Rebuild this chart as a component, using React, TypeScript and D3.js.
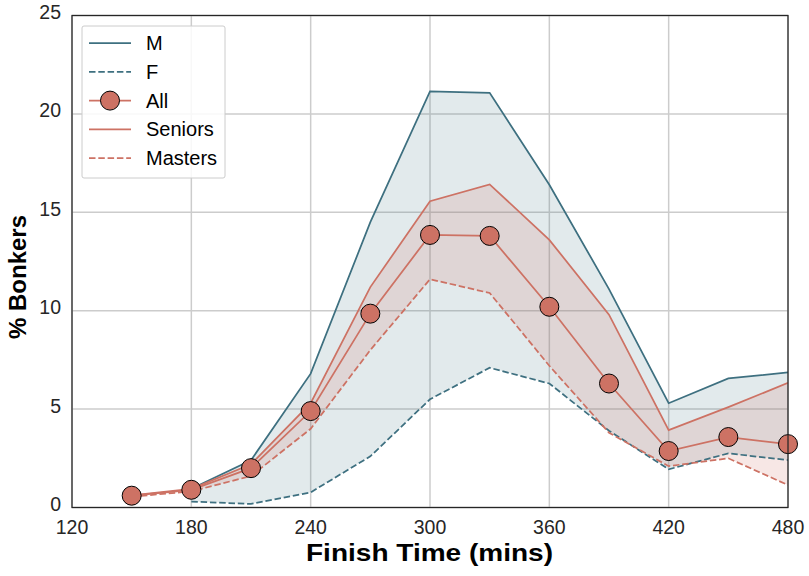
import React from "react";
import * as d3 from "d3";

const timesAll = [150, 180, 210, 240, 270, 300, 330, 360, 390, 420, 450, 480];
const allPct = [0.6, 0.9, 2.0, 4.9, 9.85, 13.85, 13.8, 10.2, 6.3, 2.87, 3.58, 3.22];
const seniorsPct = [0.62, 0.95, 2.2, 5.3, 11.2, 15.56, 16.42, 13.6, 9.8, 3.93, 5.1, 6.33];
const mastersPct = [0.55, 0.82, 1.6, 4.0, 8.0, 11.6, 10.9, 7.2, 3.8, 2.1, 2.5, 1.14];
const timesMF = [180, 210, 240, 270, 300, 330, 360, 390, 420, 450, 480];
const malePct = [0.95, 2.4, 6.8, 14.5, 21.15, 21.07, 16.4, 11.1, 5.3, 6.56, 6.86];
const femalePct = [0.3, 0.18, 0.77, 2.6, 5.5, 7.1, 6.3, 3.9, 1.94, 2.75, 2.41];

const xTicks = [120, 180, 240, 300, 360, 420, 480];
const yTicks = [0, 5, 10, 15, 20, 25];

const TEAL = "#3e7080";
const RED = "#cd7264";
const FONT = "'Liberation Sans', Arial, sans-serif";

export default function App() {
  const W = 809, H = 576;
  const L = 72, R = 788, T = 15.5, B = 507.5;
  const x = d3.scaleLinear().domain([120, 480]).range([L, R]);
  const y = d3.scaleLinear().domain([0, 25]).range([B, T]);

  const mf = timesMF.map((t, i) => ({ t, m: malePct[i], f: femalePct[i] }));
  const sm = timesAll.map((t, i) => ({ t, s: seniorsPct[i], m: mastersPct[i], a: allPct[i] }));

  const areaMF = d3.area<any>().x(d => x(d.t)).y0(d => y(d.f)).y1(d => y(d.m))(mf) || "";
  const areaSM = d3.area<any>().x(d => x(d.t)).y0(d => y(d.m)).y1(d => y(d.s))(sm) || "";
  const line = d3.line<[number, number]>().x(d => x(d[0])).y(d => y(d[1]));
  const lineM = line(timesMF.map((t, i) => [t, malePct[i]])) || "";
  const lineF = line(timesMF.map((t, i) => [t, femalePct[i]])) || "";
  const lineS = line(timesAll.map((t, i) => [t, seniorsPct[i]])) || "";
  const lineMa = line(timesAll.map((t, i) => [t, mastersPct[i]])) || "";
  const lineA = line(timesAll.map((t, i) => [t, allPct[i]])) || "";

  const dash = "6.5,2.8";
  const lw = 1.75;

  const legendItems = [
    { label: "M", color: TEAL, dash: undefined as string | undefined, marker: false },
    { label: "F", color: TEAL, dash: dash, marker: false },
    { label: "All", color: RED, dash: undefined, marker: true },
    { label: "Seniors", color: RED, dash: undefined, marker: false },
    { label: "Masters", color: RED, dash: dash, marker: false },
  ];

  return (
    <svg width={W} height={H} style={{ position: "absolute", left: 0, top: 0 }}>
      <rect x={0} y={0} width={W} height={H} fill="white" />
      <defs>
        <clipPath id="plot">
          <rect x={L} y={T} width={R - L} height={B - T} />
        </clipPath>
      </defs>
      {xTicks.map(t => (
        <line key={"gx" + t} x1={x(t)} x2={x(t)} y1={T} y2={B} stroke="#cccccc" strokeWidth={1.5} />
      ))}
      {yTicks.map(t => (
        <line key={"gy" + t} x1={L} x2={R} y1={y(t)} y2={y(t)} stroke="#cccccc" strokeWidth={1.5} />
      ))}
      <g clipPath="url(#plot)">
        <path d={areaMF} fill={TEAL} fillOpacity={0.15} />
        <path d={areaSM} fill={RED} fillOpacity={0.17} />
        <path d={lineM} fill="none" stroke={TEAL} strokeWidth={lw} />
        <path d={lineF} fill="none" stroke={TEAL} strokeWidth={lw} strokeDasharray={dash} />
        <path d={lineS} fill="none" stroke={RED} strokeWidth={lw} />
        <path d={lineMa} fill="none" stroke={RED} strokeWidth={lw} strokeDasharray={dash} />
        <path d={lineA} fill="none" stroke={RED} strokeWidth={lw} />
      </g>
      {sm.map(d => (
        <circle key={"c" + d.t} cx={x(d.t)} cy={y(d.a)} r={9.5} fill={RED} stroke="black" strokeWidth={1} />
      ))}
      <rect x={L} y={T} width={R - L} height={B - T} fill="none" stroke="#262626" strokeWidth={1.25} />
      {xTicks.map(t => (
        <text key={"tx" + t} x={x(t)} y={534} textAnchor="middle" fontFamily={FONT} fontSize={19.5} fill="#262626">{t}</text>
      ))}
      {yTicks.map(t => (
        <text key={"ty" + t} x={L - 11} y={y(t) + 3.5} textAnchor="end" fontFamily={FONT} fontSize={19.5} fill="#262626">{t}</text>
      ))}
      <text x={429.5} y={561} textAnchor="middle" fontFamily={FONT} fontSize={24.5} fontWeight="bold" fill="black" textLength={247} lengthAdjust="spacingAndGlyphs">Finish Time (mins)</text>
      <text transform={`translate(26,277) rotate(-90)`} textAnchor="middle" fontFamily={FONT} fontSize={24} fontWeight="bold" fill="black">% Bonkers</text>
      <g>
        <rect x={82} y={26} width={143} height={152} fill="white" fillOpacity={0.85} stroke="#cccccc" strokeWidth={1} rx={2} />
        {legendItems.map((it, i) => {
          const cy = 43 + i * 28.8;
          return (
            <g key={it.label}>
              <line x1={89} x2={131} y1={cy} y2={cy} stroke={it.color} strokeWidth={lw} strokeDasharray={it.dash} />
              {it.marker && <circle cx={110} cy={cy} r={9.5} fill={RED} stroke="black" strokeWidth={1} />}
              <text x={146} y={cy + 7} fontFamily={FONT} fontSize={20} fill="black">{it.label}</text>
            </g>
          );
        })}
      </g>
    </svg>
  );
}
